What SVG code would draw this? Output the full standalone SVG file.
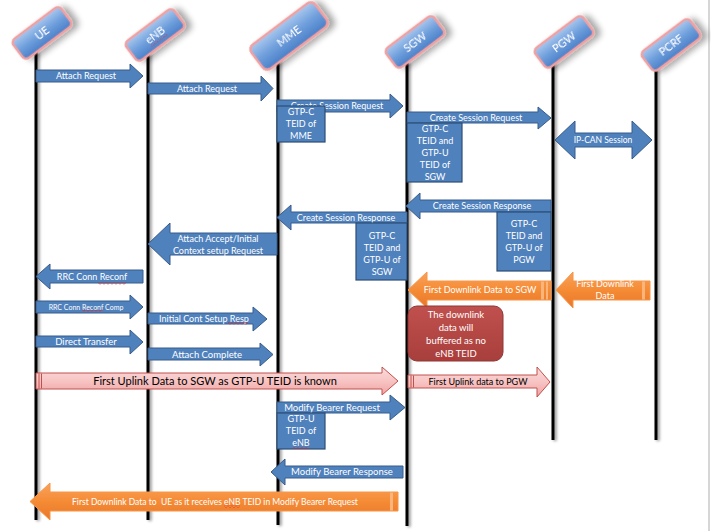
<svg xmlns="http://www.w3.org/2000/svg" width="711" height="531" viewBox="0 0 711 531">
<defs>
<linearGradient id="gHdr" x1="0" y1="0" x2="0" y2="1">
<stop offset="0" stop-color="#a9c8ee"/><stop offset="0.5" stop-color="#6f9fdc"/><stop offset="1" stop-color="#4a7fc8"/>
</linearGradient>
<linearGradient id="gOr" x1="0" y1="0" x2="0" y2="1">
<stop offset="0" stop-color="#f9a25c"/><stop offset="0.5" stop-color="#f58b35"/><stop offset="1" stop-color="#e8772a"/>
</linearGradient>
<linearGradient id="gPk" x1="0" y1="0" x2="0" y2="1">
<stop offset="0" stop-color="#fbdcdc"/><stop offset="0.5" stop-color="#f7c4c3"/><stop offset="1" stop-color="#f0a3a2"/>
</linearGradient>
<linearGradient id="gRed" x1="0" y1="0" x2="0" y2="1">
<stop offset="0" stop-color="#c0504d"/><stop offset="1" stop-color="#a83f3c"/>
</linearGradient>
<filter id="shLine" x="-50%" y="-5%" width="300%" height="110%">
<feGaussianBlur in="SourceAlpha" stdDeviation="1.5"/>
<feOffset dx="2" dy="1" result="b"/>
<feComponentTransfer><feFuncA type="linear" slope="0.45"/></feComponentTransfer>
<feMerge><feMergeNode/><feMergeNode in="SourceGraphic"/></feMerge>
</filter>
<filter id="shHdr" x="-50%" y="-50%" width="200%" height="200%">
<feGaussianBlur in="SourceAlpha" stdDeviation="3"/>
<feOffset dx="5" dy="4"/>
<feComponentTransfer><feFuncA type="linear" slope="0.35"/></feComponentTransfer>
<feMerge><feMergeNode/><feMergeNode in="SourceGraphic"/></feMerge>
</filter>
<pattern id="sq" width="4" height="3" patternUnits="userSpaceOnUse">
<path d="M0,2.2 L2,0.6 L4,2.2" fill="none" stroke="#e02020" stroke-width="0.7"/>
</pattern>
<style>
.life{stroke:#000;stroke-width:3;fill:none}
.hdr{fill:url(#gHdr);stroke:#f0a0a0;stroke-width:2.5}
.ht{font-family:Lato,"Liberation Sans",sans-serif;font-size:11px;fill:#fff;text-anchor:middle}
.blue{fill:#4f81bd;stroke:#385d8a;stroke-width:1}
.box{fill:#4f81bd;stroke:#2c4d75;stroke-width:1.2}
.or{fill:url(#gOr);stroke:#f79646;stroke-width:1}
.pk{fill:url(#gPk);stroke:#c0504d;stroke-width:1}
.red{fill:url(#gRed);stroke:#8c3836;stroke-width:1}
.t{font-family:Lato,"Liberation Sans",sans-serif;font-size:9px;fill:#fff;text-anchor:middle}
.tk{font-family:Lato,"Liberation Sans",sans-serif;font-size:9px;fill:#000;text-anchor:middle}
</style>
</defs>
<rect x="0" y="0" width="711" height="531" fill="#fff"/>
<line x1="709" y1="0" x2="709" y2="531" stroke="#c8c8c8" stroke-width="1.5"/>

<g id="lifelines" filter="url(#shLine)">
<line class="life" x1="36" y1="52" x2="36" y2="520"/>
<line class="life" x1="148" y1="53" x2="148" y2="520"/>
<line class="life" x1="278" y1="57" x2="278" y2="525"/>
<line class="life" x1="407" y1="62" x2="407" y2="526"/>
<line class="life" x1="553" y1="62" x2="553" y2="440"/>
<line class="life" x1="656" y1="64" x2="656" y2="440"/>
</g>

<g id="node-ue" filter="url(#shHdr)" transform="translate(42,33) rotate(-37)">
<rect class="hdr" x="-30" y="-12" width="60" height="24" rx="5"/>
<text class="ht" x="0" y="4">UE</text>
</g>
<g id="node-enb" filter="url(#shHdr)" transform="translate(155,35) rotate(-37)">
<rect class="hdr" x="-30" y="-12" width="60" height="24" rx="5"/>
<text class="ht" x="0" y="4">eNB</text>
<rect x="-10" y="5" width="20" height="2.5" fill="url(#sq)"/>
</g>
<g id="node-mme" filter="url(#shHdr)" transform="translate(289,36) rotate(-37)">
<rect class="hdr" x="-40" y="-15" width="80" height="30" rx="6"/>
<text class="ht" x="0" y="4">MME</text>
</g>
<g id="node-sgw" filter="url(#shHdr)" transform="translate(415,42) rotate(-37)">
<rect class="hdr" x="-30" y="-12" width="60" height="24" rx="5"/>
<text class="ht" x="0" y="4">SGW</text>
</g>
<g id="node-pgw" filter="url(#shHdr)" transform="translate(564,42) rotate(-37)">
<rect class="hdr" x="-30" y="-12" width="60" height="24" rx="5"/>
<text class="ht" x="0" y="4">PGW</text>
</g>
<g id="node-pcrf" filter="url(#shHdr)" transform="translate(671,45) rotate(-37)">
<rect class="hdr" x="-30" y="-12" width="60" height="24" rx="5"/>
<text class="ht" x="0" y="4">PCRF</text>
</g>

<g id="connectors">
<g id="m1"><path class="blue" d="M36,70 H130 V64 L143,76 L130,88 V82 H36 Z"/><text class="t" x="86" y="79.3">Attach Request</text></g>
<g id="m2"><path class="blue" d="M148,83 H261 V76 L273,88.5 L261,101 V94 H148 Z"/><text class="t" x="207" y="91.8">Attach Request</text></g>
<g id="m3"><path class="blue" d="M277,100 H390 V94 L403,106 L390,118 V112 H277 Z"/><text class="t" x="337" y="108.5">Create Session Request</text></g>
<g id="m4"><path class="blue" d="M407,112 H538 V107 L551,118 L538,129 V123 H407 Z"/><text class="t" x="476" y="120.8">Create Session Request</text></g>
<g id="m5"><path class="blue" d="M555,140 L575,121 V133 H632 V121 L652,140 L632,159 V147 H575 V159 Z"/><text class="t" x="603" y="143" style="font-size:8.5px">IP-CAN Session</text></g>
<g id="m6"><path class="blue" d="M551,200 H420 V193 L406,206 L420,219 V212 H551 Z"/><text class="t" x="482" y="209.2">Create Session Response</text></g>
<g id="m7"><path class="blue" d="M407,212 H291 V205 L277,217.5 L291,230 V223 H407 Z"/><text class="t" x="346" y="221">Create Session Response</text></g>
<g id="m8"><path class="blue" d="M277,233 H170 V223 L148,244 L170,265 V255 H277 Z"/><text class="t" x="218" y="242">Attach Accept/Initial</text><text class="t" x="218" y="254">Context setup Request</text></g>
<g id="m9"><path class="or" d="M551,281 H427 V272 L408,290 L427,308 V300 H551 Z"/><rect x="541" y="281.5" width="3" height="18" fill="#fbb47a"/><rect x="546" y="281.5" width="2" height="18" fill="#fbb47a"/><text class="t" x="480" y="293.2">First Downlink Data to SGW</text></g>
<g id="m10"><path class="or" d="M650,281 H573 V272 L556,290 L573,308 V300 H650 Z"/><rect x="642" y="281.5" width="3" height="18" fill="#fbb47a"/><text class="t" x="605" y="287">First Downlink</text><text class="t" x="605" y="299">Data</text></g>
<g id="m11"><path class="blue" d="M143,270 H50 V264 L36,276.5 L50,289 V283 H143 Z"/><text class="t" x="92" y="279.8">RRC Conn Reconf</text><rect x="98" y="282.5" width="28" height="2.5" fill="url(#sq)"/></g>
<g id="m12"><path class="blue" d="M36,301 H130 V295 L143,307 L130,319 V313 H36 Z"/><text class="t" x="86" y="309.5" style="font-size:7px">RRC Conn Reconf Comp</text><rect x="82" y="309.5" width="21" height="2.5" fill="url(#sq)"/></g>
<g id="m13"><path class="blue" d="M148,313 H253 V307 L267,319 L253,331 V324 H148 Z"/><text class="t" x="204" y="321.5">Initial Cont Setup Resp</text><rect x="228" y="322" width="20" height="2.5" fill="url(#sq)"/></g>
<g id="m14"><path class="blue" d="M36,336 H130 V330 L143,342 L130,354 V347 H36 Z"/><text class="t" x="86" y="345" style="font-size:9.5px">Direct Transfer</text></g>
<g id="m15"><path class="blue" d="M148,348 H260 V343 L273,354.5 L260,366 V360 H148 Z"/><text class="t" x="207" y="357.8" style="font-size:9.5px">Attach Complete</text></g>
<g id="m17"><path class="pk" d="M408,375 H537 V367 L550,382 L537,397 V388 H408 Z"/><line x1="411" y1="375.5" x2="411" y2="387.5" stroke="#c0504d" stroke-width="1"/><line x1="413.5" y1="375.5" x2="413.5" y2="387.5" stroke="#c0504d" stroke-width="1"/><text class="tk" x="478" y="384.5">First Uplink data to PGW</text></g>
<g id="m18"><path class="pk" d="M36,373 H382 V367 L398,381 L382,395 V389 H36 Z"/><line x1="39" y1="373.5" x2="39" y2="388.5" stroke="#c0504d" stroke-width="1"/><line x1="41.5" y1="373.5" x2="41.5" y2="388.5" stroke="#c0504d" stroke-width="1"/><text class="tk" x="215" y="385" style="font-size:11px">First Uplink Data to SGW as GTP-U TEID is known</text></g>
<g id="m19"><path class="blue" d="M277,402 H390 V395 L405,407.5 L390,420 V413 H277 Z"/><text class="t" x="332" y="410.8" style="font-size:9.5px">Modify Bearer Request</text></g>
<g id="m20"><path class="blue" d="M403,466 H285 V459 L271,472 L285,485 V478 H403 Z"/><text class="t" x="342" y="475.3" style="font-size:9.5px">Modify Bearer Response</text></g>
<g id="m21"><path class="or" d="M398,492 H50 V483 L30,501.5 L50,520 V511 H398 Z"/><rect x="390" y="492.5" width="3" height="18" fill="#fbb47a"/><text class="t" x="215" y="504.5" xml:space="preserve" style="font-size:8.5px">First Downlink Data to  UE as it receives eNB TEID in Modify Bearer Request</text><rect x="224" y="505.5" width="16" height="2.5" fill="url(#sq)"/></g>
</g>

<g id="note-gtpc-mme"><rect class="box" x="277" y="106" width="48" height="36"/><text class="t" x="301" y="115">GTP-C</text><text class="t" x="301" y="127">TEID of</text><text class="t" x="301" y="139">MME</text></g>
<g id="note-gtp-sgw1"><rect class="box" x="407" y="123" width="55" height="59"/><text class="t" x="435" y="132">GTP-C</text><text class="t" x="435" y="144">TEID and</text><text class="t" x="435" y="156">GTP-U</text><text class="t" x="435" y="168">TEID of</text><text class="t" x="435" y="180">SGW</text></g>
<g id="note-gtp-pgw"><rect class="box" x="497" y="212" width="54" height="59"/><text class="t" x="524" y="227">GTP-C</text><text class="t" x="524" y="239">TEID and</text><text class="t" x="524" y="251">GTP-U of</text><text class="t" x="524" y="263">PGW</text></g>
<g id="note-gtp-sgw2"><rect class="box" x="356" y="223" width="51" height="57"/><text class="t" x="382" y="239">GTP-C</text><text class="t" x="382" y="251">TEID and</text><text class="t" x="382" y="263">GTP-U of</text><text class="t" x="382" y="275">SGW</text></g>
<g id="note-buffer"><rect class="red" x="408" y="306" width="95" height="55" rx="9"/><text class="t" x="456" y="317.5" style="font-size:9.5px">The downlink</text><text class="t" x="456" y="330.5" style="font-size:9.5px">data will</text><text class="t" x="456" y="343.5" style="font-size:9.5px">buffered as no</text><text class="t" x="456" y="356.5" style="font-size:9.5px">eNB TEID</text><rect x="436" y="357.5" width="19" height="2.5" fill="url(#sq)"/></g>
<g id="note-gtpu-enb"><rect class="box" x="277" y="413" width="48" height="36"/><text class="t" x="301" y="422">GTP-U</text><text class="t" x="301" y="434">TEID of</text><text class="t" x="301" y="446">eNB</text><rect x="293" y="446.5" width="16" height="2.5" fill="url(#sq)"/></g>
</svg>
